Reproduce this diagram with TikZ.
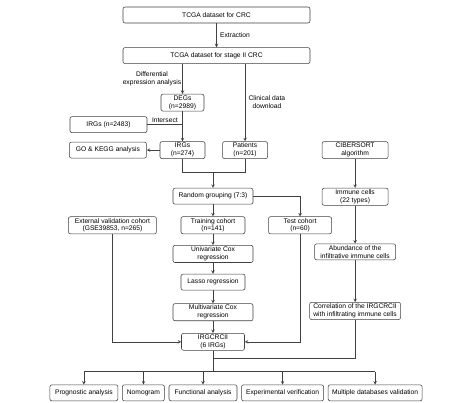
\documentclass[tikz,border=0pt]{standalone}
\usepackage{fontspec}
\setmainfont{Liberation Sans}
\usetikzlibrary{positioning, arrows, calc}

\begin{document}
\begin{tikzpicture}[node distance=12pt, every node/.style={font=\fontsize{6.7pt}{7.9pt}\selectfont}]
% Styles
\tikzstyle{box} = [rectangle, rounded corners=2pt, minimum height=16pt, inner sep=1.5pt, text centered, draw=black!75, fill=white, align=center, line width=0.55pt]
\tikzstyle{line} = [draw=black!75, line width=0.55pt]
\tikzstyle{arrow} = [line,->,>=stealth]

\useasboundingbox (0,0) rectangle (474pt,-402pt);

\node (crc) [box, minimum width=187pt] at (216.5pt,-15pt) {TCGA dataset for CRC};
\node (stage) [box, minimum width=187pt, below=24pt of crc] {TCGA dataset for stage II CRC};
\node (degs) [box, minimum width=43pt, below=30pt of stage, xshift=-34pt] {DEGs\\(n=2989)};
\node (irgsall) [box, minimum width=77pt, below=5pt of degs, xshift=-74pt] {IRGs (n=2483)};
\node (irgs) [box, minimum width=45pt, below=30pt of degs] {IRGs\\(n=274)};
\node (gokegg) [box, minimum width=77pt, left=13pt of irgs] {GO \& KEGG analysis};
\node (patients) [box, minimum width=45pt, right=17pt of irgs] {Patients\\(n=201)};
\node (cibersort) [box, minimum width=66pt, right=54pt of patients] {CIBERSORT\\algorithm};
\node (random) [box, minimum width=80pt, below=29pt of irgs, xshift=30.5pt] {Random grouping (7:3)};
\node (immune) [box, minimum width=66pt, below=29pt of cibersort] {Immune cells\\(22 types)};
\node (training) [box, minimum width=64pt, below=12pt of random] {Training cohort\\(n=141)};
\node (external) [box, minimum width=88pt, left=24pt of training] {External validation cohort\\(GSE39853, n=265)};
\node (test) [box, minimum width=63pt, right=23pt of training] {Test cohort\\(n=60)};
\node (univariate) [box, minimum width=80pt, below=11pt of training] {Univariate Cox\\regression};
\node (abundance) [box, minimum width=81pt, below=38pt of immune] {Abundance of the\\infiltrative immune cells};
\node (lasso) [box, minimum width=64pt, below=11pt of univariate] {Lasso regression};
\node (multivariate) [box, minimum width=80pt, below=13pt of lasso] {Multivariate Cox\\regression};
\node (correlation) [box, minimum width=91pt, below=42pt of abundance] {Correlation of the IRGCRCII\\with infiltrating immune cells};
\node (irgcrcii) [box, minimum width=63pt, below=12pt of multivariate] {IRGCRCII\\(6 IRGs)};
\node (functional) [box, minimum width=68pt, below=34pt of irgcrcii, xshift=-10pt] {Functional analysis};
\node (nomogram) [box, minimum width=42pt, left=4pt of functional] {Nomogram};
\node (prognostic) [box, minimum width=68pt, left=4pt of nomogram] {Prognostic analysis};
\node (experimental) [box, minimum width=82pt, right=4pt of functional] {Experimental verification};
\node (multiple) [box, minimum width=94pt, right=4pt of experimental] {Multiple databases validation};

\draw [arrow] (crc) -- node[right] {Extraction} (stage);
\draw [arrow] (stage.south -| degs) -- node[left, align=center, inner sep=1pt] {Differential\\expression analysis} (degs);
\draw [arrow] (degs) -- (irgs);
\draw [line] (irgsall) -- node[above, inner sep=1.5pt] {Intersect} (irgsall -| degs);
\draw [arrow] (irgs) -- (gokegg);
\draw [arrow] (stage.south -| patients) -- node[right, align=center] {Clinical data\\download} (patients);

\coordinate (merge) at ($(random.north)+(0,16pt)$);
\draw [line] (irgs) |- (merge) -| (patients);
\draw [arrow] (merge) -- (random);
\draw [arrow] (random) -| (test);
\draw [arrow] (random) -- (training);
\draw [arrow] (training) -- (univariate);
\draw [arrow] (univariate) -- (lasso);
\draw [arrow] (lasso) -- (multivariate);
\draw [arrow] (multivariate) -- (irgcrcii);
\draw [arrow] (external) |- (irgcrcii);
\draw [arrow] (test) |- (irgcrcii);

\draw [arrow] (cibersort) -- (immune);
\draw [arrow] (immune) -- (abundance);
\draw [arrow] (abundance) -- (correlation);

\coordinate (join) at ($(irgcrcii.south)+(0,-8pt)$);
\draw [line] (correlation) |- (join);
\coordinate (branch) at ($(irgcrcii.south)+(0,-21pt)$);
\draw [line] (irgcrcii) -- (branch);
\draw [line] (branch -| prognostic) -- (branch -| multiple);
\foreach \n in {prognostic, nomogram, functional, experimental, multiple}
  \draw [arrow] (branch -| \n) -- (\n);

\end{tikzpicture}
\end{document}
